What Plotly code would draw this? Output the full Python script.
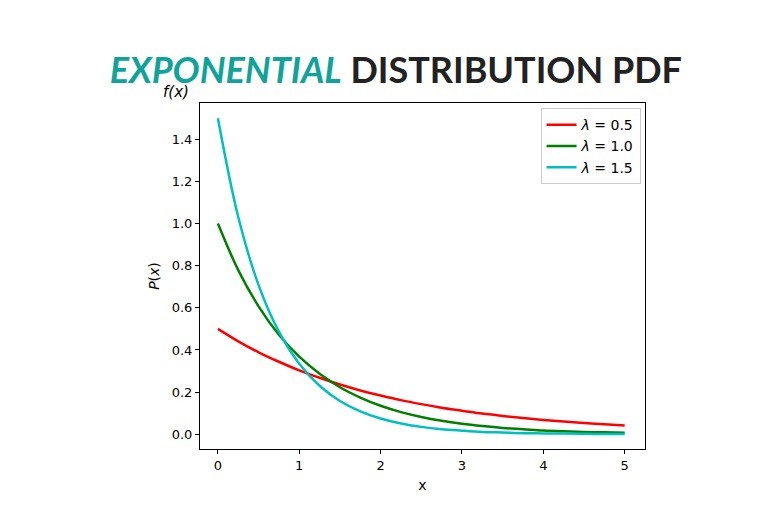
import plotly.graph_objects as go

x = [0, 0.25, 0.5, 0.75, 1, 1.25, 1.5, 1.75, 2, 2.25, 2.5, 2.75, 3, 3.25, 3.5, 3.75, 4, 4.25, 4.5, 4.75, 5]
y_l05 = [0.5, 0.441, 0.389, 0.344, 0.303, 0.268, 0.236, 0.208, 0.184, 0.162, 0.143, 0.126, 0.112, 0.098, 0.087, 0.077, 0.068, 0.060, 0.053, 0.047, 0.041]
y_l10 = [1.0, 0.779, 0.607, 0.472, 0.368, 0.287, 0.223, 0.174, 0.135, 0.105, 0.082, 0.064, 0.050, 0.039, 0.030, 0.024, 0.018, 0.014, 0.011, 0.009, 0.007]
y_l15 = [1.5, 1.031, 0.708, 0.487, 0.335, 0.230, 0.158, 0.109, 0.075, 0.051, 0.035, 0.024, 0.017, 0.011, 0.008, 0.005, 0.004, 0.003, 0.002, 0.001, 0.001]
series = [("<i>λ</i> = 0.5", y_l05, "#ff0000"), ("<i>λ</i> = 1.0", y_l10, "#008000"), ("<i>λ</i> = 1.5", y_l15, "#00bfbf")]

fig = go.Figure()
for name, ys, c in series:
    fig.add_trace(go.Scatter(x=x, y=ys, name=name, mode="lines",
                             line=dict(color=c, width=2.5, shape="spline")))

ax = dict(showgrid=False, zeroline=False, showline=True, mirror=True, linecolor="black",
          linewidth=1, ticks="outside", ticklen=4, tickcolor="black", automargin=False,
          tickfont=dict(size=13, color="black"))
fig.update_layout(
    width=768, height=512, paper_bgcolor="white", plot_bgcolor="white",
    margin=dict(l=192, r=131, t=95, b=71, autoexpand=False),
    font=dict(family="DejaVu Sans", color="black"),
    title=dict(text="<b><i><span style='color:#0fa39a'>EXPONENTIAL</span></i> DISTRIBUTION PDF</b>",
               x=0.505, xref="container", xanchor="center", y=1 - 62 / 512, yref="container",
               yanchor="middle", font=dict(size=36, color="#222222", family="Lato", weight=900)),
    xaxis=dict(ax, range=[-0.22, 5.25], tickvals=[0, 1, 2, 3, 4, 5],
               title=dict(text="x", font=dict(size=14), standoff=8)),
    yaxis=dict(ax, range=[-0.07, 1.572], tickvals=[0, 0.2, 0.4, 0.6, 0.8, 1.0, 1.2, 1.4],
               tickformat=".1f", title=dict(text="<i>P</i>(<i>x</i>)", font=dict(size=14), standoff=8)),
    legend=dict(x=0.99, y=0.985, xanchor="right", yanchor="top", bordercolor="#cccccc",
                borderwidth=1, bgcolor="white", font=dict(size=14)),
    showlegend=True,
)
fig.add_annotation(xref="paper", yref="paper", x=-0.02, y=1.0, xanchor="right", yanchor="bottom",
                   text="<i>f(x)</i>", showarrow=False, font=dict(size=15, color="black"))
fig.write_html("out.html")
